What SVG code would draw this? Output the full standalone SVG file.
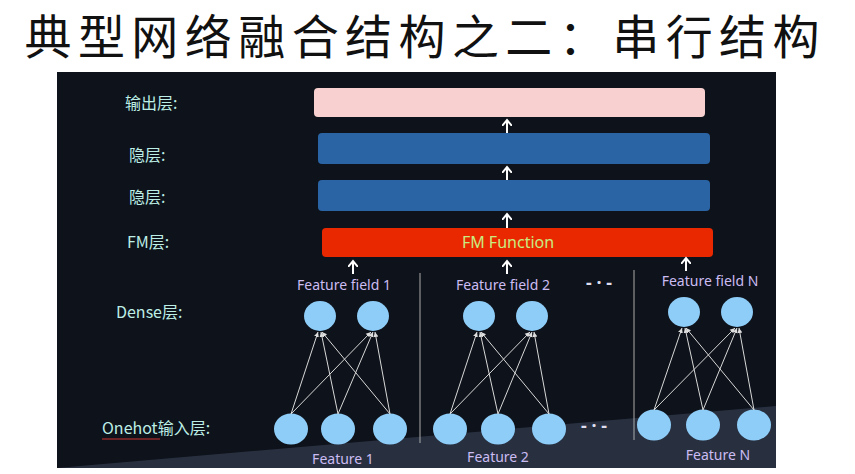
<svg xmlns="http://www.w3.org/2000/svg" width="855" height="474" viewBox="0 0 855 474">
<style>
.lbl{font-family:"Noto Sans CJK SC","Noto Sans",sans-serif;font-size:16px;fill:#bdeee6}
.ff{font-family:"Noto Sans","Noto Sans CJK SC",sans-serif;font-size:14px;fill:#cbbcf2;text-anchor:middle}
.dd{font-family:"Noto Sans",sans-serif;font-size:18px;font-weight:bold;fill:#dde;text-anchor:middle}
.n{fill:#8ecdf8}
.c line{stroke:#d8d8d8;stroke-width:1;marker-end:url(#a)}
.up{stroke:#fff;stroke-width:2;marker-end:url(#b)}
</style>
<defs>
<marker id="a" markerWidth="6" markerHeight="6" refX="5" refY="3" orient="auto"><path d="M0,0.5L5,3L0,5.5z" fill="#ddd"/></marker>
<marker id="b" markerWidth="5" markerHeight="5" refX="3" refY="2.5" orient="auto" markerUnits="strokeWidth"><path d="M0,0L3,2.5L0,5" fill="none" stroke="#fff" stroke-width="1"/></marker>
</defs>
<rect width="855" height="474" fill="#fff"/>
<text x="422" y="54" font-family="Noto Sans CJK SC,sans-serif" font-size="47" text-anchor="middle" textLength="795" fill="#111">典型网络融合结构之二：串行结构</text>
<rect x="57" y="72" width="719" height="396" fill="#0e121a"/>
<polygon points="57,468 776,406 776,468" fill="#283040"/>
<g id="labels">
<text class="lbl" x="125" y="109">输出层:</text>
<text class="lbl" x="129" y="161">隐层:</text>
<text class="lbl" x="129" y="203">隐层:</text>
<text class="lbl" x="127" y="248">FM层:</text>
<text class="lbl" x="116" y="318">Dense层:</text>
<text class="lbl" x="102" y="434">Onehot输入层:</text>
<line x1="102" y1="439" x2="160" y2="439" stroke="#c33" stroke-width="1.2"/>
</g>
<g id="output"><rect x="314" y="88" width="391" height="29" rx="4" fill="#f8d0d0"/></g>
<g id="hidden1"><rect x="318" y="133" width="392" height="31" rx="4" fill="#2a64a4"/></g>
<g id="hidden2"><rect x="318" y="180" width="392" height="31" rx="4" fill="#2a64a4"/></g>
<g id="fm"><rect x="322" y="228" width="391" height="29" rx="4" fill="#ea2800"/>
<text x="508" y="248" font-family="Noto Sans,sans-serif" font-size="16" fill="#c8ec80" text-anchor="middle">FM Function</text></g>
<g id="fields">
<text class="ff" x="344" y="290">Feature field 1</text>
<text class="ff" x="503" y="290">Feature field 2</text>
<text class="ff" x="710" y="286">Feature field N</text>
<text class="dd" x="599" y="289">- · -</text>
<text class="dd" x="594" y="432">- · -</text>
<text class="ff" x="343" y="464">Feature 1</text>
<text class="ff" x="498" y="462">Feature 2</text>
<text class="ff" x="718" y="460">Feature N</text>
<line x1="420" y1="273" x2="420" y2="443" stroke="#aaa"/>
<line x1="634" y1="270" x2="634" y2="440" stroke="#aaa"/>
</g>
<g id="dense">
<ellipse class="n" cx="320" cy="316" rx="16" ry="15"/><ellipse class="n" cx="373" cy="316" rx="16" ry="15"/>
<ellipse class="n" cx="479" cy="316" rx="16" ry="15"/><ellipse class="n" cx="532" cy="316" rx="16" ry="15"/>
<ellipse class="n" cx="684" cy="312" rx="16" ry="15"/><ellipse class="n" cx="737" cy="312" rx="16" ry="15"/>
</g>
<g id="onehot">
<ellipse class="n" cx="291" cy="429" rx="17" ry="15.5"/><ellipse class="n" cx="338" cy="429" rx="17" ry="15.5"/><ellipse class="n" cx="390" cy="429" rx="17" ry="15.5"/>
<ellipse class="n" cx="450" cy="429" rx="17" ry="15.5"/><ellipse class="n" cx="498" cy="429" rx="17" ry="15.5"/><ellipse class="n" cx="549" cy="429" rx="17" ry="15.5"/>
<ellipse class="n" cx="654" cy="425" rx="17" ry="15.5"/><ellipse class="n" cx="703" cy="425" rx="17" ry="15.5"/><ellipse class="n" cx="754" cy="425" rx="17" ry="15.5"/>
</g>
<g id="connectors">
<line class="up" x1="507" y1="133" x2="507" y2="120"/>
<line class="up" x1="507" y1="180" x2="507" y2="167"/>
<line class="up" x1="507" y1="228" x2="507" y2="214"/>
<line class="up" x1="353" y1="274" x2="353" y2="261"/>
<line class="up" x1="507" y1="274" x2="507" y2="261"/>
<line class="up" x1="686" y1="271" x2="686" y2="258"/>
<g class="c">
<line x1="291" y1="414" x2="318" y2="332"/><line x1="291" y1="414" x2="371" y2="332"/>
<line x1="338" y1="414" x2="321" y2="332"/><line x1="338" y1="414" x2="373" y2="332"/>
<line x1="390" y1="414" x2="322" y2="332"/><line x1="390" y1="414" x2="375" y2="332"/>
<line x1="450" y1="414" x2="477" y2="332"/><line x1="450" y1="414" x2="530" y2="332"/>
<line x1="498" y1="414" x2="480" y2="332"/><line x1="498" y1="414" x2="532" y2="332"/>
<line x1="549" y1="414" x2="481" y2="332"/><line x1="549" y1="414" x2="534" y2="332"/>
<line x1="654" y1="410" x2="682" y2="328"/><line x1="654" y1="410" x2="735" y2="328"/>
<line x1="703" y1="410" x2="685" y2="328"/><line x1="703" y1="410" x2="737" y2="328"/>
<line x1="754" y1="410" x2="686" y2="328"/><line x1="754" y1="410" x2="739" y2="328"/>
</g>
</g>
</svg>
